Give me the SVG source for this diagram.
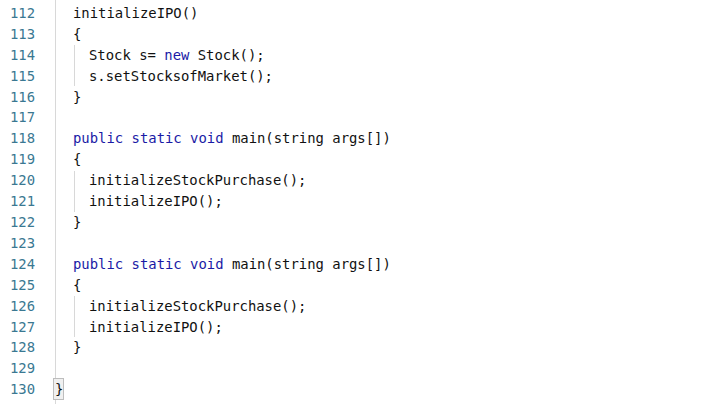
<svg xmlns="http://www.w3.org/2000/svg" width="726" height="404" viewBox="0 0 726 404">
<style>
text{font-family:"DejaVu Sans Mono",monospace;font-size:13.9px;white-space:pre}
.n{fill:#3a7892}
.c{fill:#111}
.k{fill:#1a1aa6}
.g{stroke:#d8d8d8;stroke-width:1}
</style>
<rect width="726" height="404" fill="#fff"/>
<line class="g" x1="55.5" y1="0" x2="55.5" y2="404"/>
<line class="g" x1="74.5" y1="45" x2="74.5" y2="86"/>
<line class="g" x1="74.5" y1="171" x2="74.5" y2="212"/>
<line class="g" x1="74.5" y1="296" x2="74.5" y2="337"/>
<rect x="53.5" y="378.5" width="10" height="21" fill="#f0f0f0" stroke="#bdbdbd"/>
<g class="n">
<text x="10" y="18">112</text><text x="10" y="39">113</text><text x="10" y="60">114</text><text x="10" y="81">115</text><text x="10" y="102">116</text><text x="10" y="122">117</text><text x="10" y="143">118</text><text x="10" y="164">119</text><text x="10" y="185">120</text><text x="10" y="206">121</text><text x="10" y="227">122</text><text x="10" y="248">123</text><text x="10" y="269">124</text><text x="10" y="290">125</text><text x="10" y="311">126</text><text x="10" y="332">127</text><text x="10" y="352">128</text><text x="10" y="373">129</text><text x="10" y="394">130</text>
</g>
<g class="c">
<text x="73" y="18">initializeIPO()</text>
<text x="73" y="39">{</text>
<text x="89" y="60">Stock s= <tspan class="k">new</tspan> Stock();</text>
<text x="89" y="81">s.setStocksofMarket();</text>
<text x="73" y="102">}</text>
<text x="73" y="143"><tspan class="k">public static void</tspan> main(string args[])</text>
<text x="73" y="164">{</text>
<text x="89" y="185">initializeStockPurchase();</text>
<text x="89" y="206">initializeIPO();</text>
<text x="73" y="227">}</text>
<text x="73" y="269"><tspan class="k">public static void</tspan> main(string args[])</text>
<text x="73" y="290">{</text>
<text x="89" y="311">initializeStockPurchase();</text>
<text x="89" y="332">initializeIPO();</text>
<text x="73" y="352">}</text>
<text x="55" y="394">}</text>
</g>
</svg>
